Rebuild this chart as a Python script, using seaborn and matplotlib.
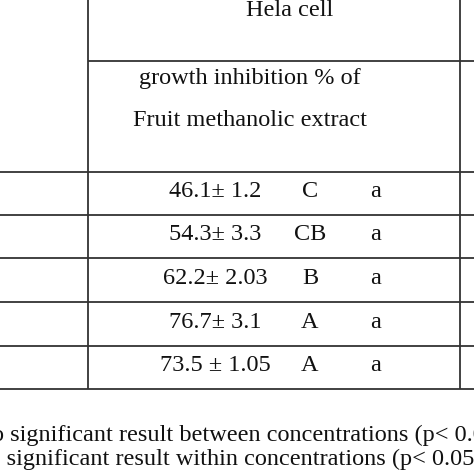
import matplotlib.pyplot as plt
import seaborn as sns

sns.set_style("white")
plt.rcParams['font.family'] = ['Liberation Serif', 'DejaVu Serif']

# table values
means = ["46.1", "54.3", "62.2", "76.7", "73.5 "]
sds = ["1.2", "3.3", "2.03", "3.1", "1.05"]
between = ["C", "CB", "B", "A", "A"]
within = ["a", "a", "a", "a", "a"]
header = "Hela cell"
subheader = ["growth inhibition % of", "Fruit methanolic extract"]
notes = ["o significant result between concentrations (p< 0.05)",
         "\u2022 significant result within concentrations (p< 0.05)"]

fig = plt.figure(figsize=(4.74, 4.74), dpi=100)
ax = fig.add_axes([0, 0, 1, 1])
ax.set_xlim(0, 474)
ax.set_ylim(474, 0)
ax.axis("off")

lc = "#333333"
lw = 1.3
row_lines = [172, 215, 258, 302, 346, 389]
ax.vlines([88, 460], 0, 389, color=lc, lw=lw)
ax.hlines(61, 88, 474, color=lc, lw=lw)
ax.hlines(row_lines, 0, 474, color=lc, lw=lw)

fs = 17.5
tc = "#111111"
ax.text(290, 10, header, ha="center", va="center", fontsize=fs, color=tc)
ax.text(250, 78, subheader[0], ha="center", va="center", fontsize=fs, color=tc)
ax.text(250, 120, subheader[1], ha="center", va="center", fontsize=fs, color=tc)

for i, (m, s, b, w) in enumerate(zip(means, sds, between, within)):
    y = (row_lines[i] + row_lines[i + 1]) / 2 - 2
    ax.text(215, y, f"{m}\u00b1 {s}", ha="center", va="center", fontsize=fs, color=tc)
    ax.text(310, y, b, ha="center", va="center", fontsize=fs, color=tc)
    ax.text(376, y, w, ha="center", va="center", fontsize=fs, color=tc)

ax.text(-8, 435, notes[0], ha="left", va="center", fontsize=fs, color=tc)
ax.text(-8, 459, notes[1], ha="left", va="center", fontsize=fs, color=tc)

fig.savefig("out.png", dpi=100)
